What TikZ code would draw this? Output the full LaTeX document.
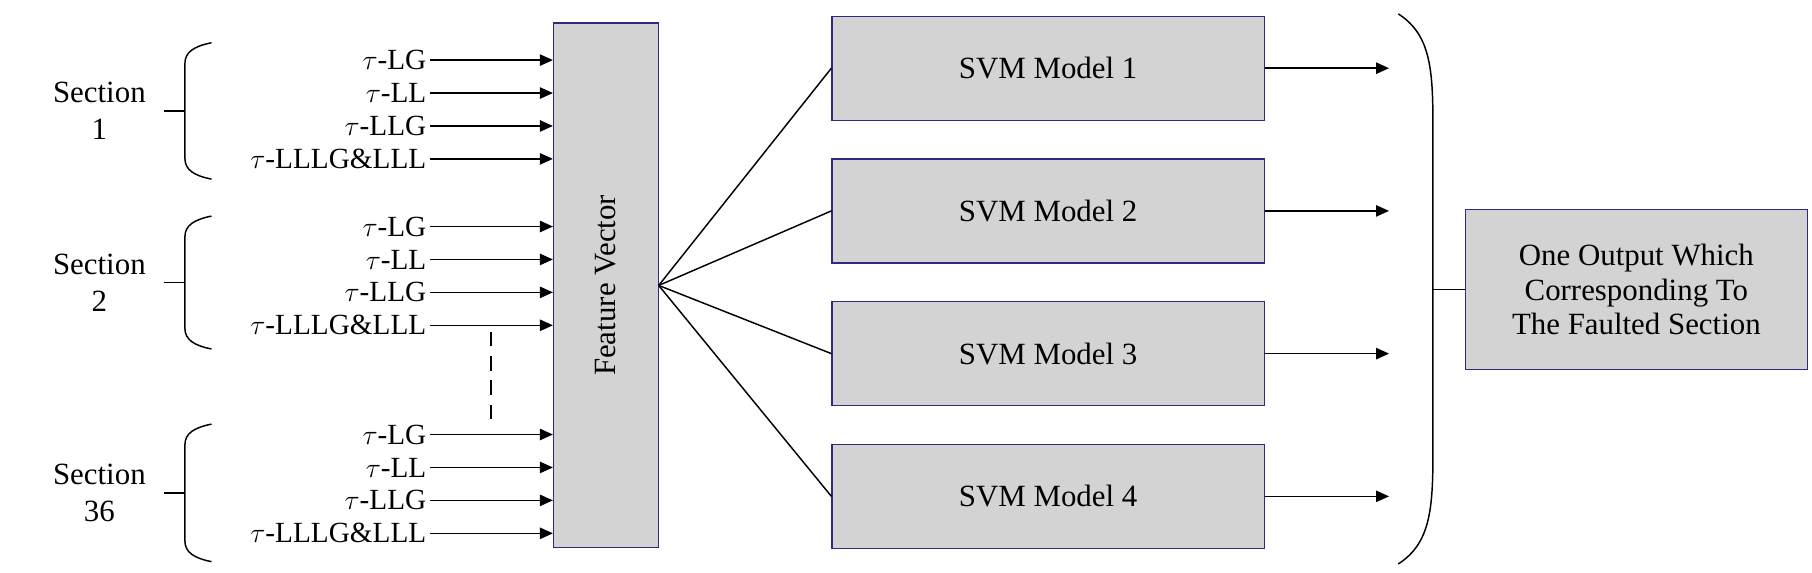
\documentclass[tikz,border=0pt]{standalone}
\usepackage{fontspec}
\setmainfont{Liberation Serif}
\usetikzlibrary{arrows.meta, positioning}
\definecolor{boxfill}{HTML}{D3D3D3}
\definecolor{boxline}{HTML}{2E2A7F}
\tikzset{
  >={Triangle[length=8pt,width=7pt]}, % filled arrow heads
  block/.style={draw=boxline, fill=boxfill, line width=0.8pt, inner sep=0pt, font=\fontsize{19}{23}\selectfont},
  feat/.style={font=\fontsize{18}{21}\selectfont, inner sep=2pt},
  sect/.style={font=\fontsize{19}{23}\selectfont, align=center},
  wire/.style={line width=0.9pt},
}
\begin{document}
\begin{tikzpicture}[x=0.025cm, y=-0.025cm]
  \useasboundingbox (0,0) rectangle (1568,495);

  % middle column
  \node[block, minimum width=91*0.025cm, minimum height=454*0.025cm] (fv) at (524.5,247) {};
  \node[rotate=90, font=\fontsize{19}{23}\selectfont] at (fv) {Feature Vector};
  \coordinate (hub) at (570,247);

  \foreach \i/\y in {1/59, 2/182.5, 3/306, 4/429.5} {
    \node[block, minimum width=374*0.025cm, minimum height=90*0.025cm] (svm\i) at (907,\y) {SVM Model \i};
    \coordinate (out\i) at (1202,\y);
    \draw[wire] (hub) -- (svm\i.west);
    \draw[wire,->] (svm\i.east) -- (out\i);
  }

  % right parenthesis
  \draw[wire] (1210,12) .. controls (1238,30) and (1240,60) .. (1240,110)
    -- (1240,390) .. controls (1240,440) and (1238,470) .. (1210,488);
  \node[block, align=center, minimum width=296*0.025cm, minimum height=139*0.025cm] (res) at (1416,250.5)
    {One Output Which\\[-2pt]Corresponding To\\[-2pt]The Faulted Section};
  \draw[wire] (1240,250.5) -- (res.west);

  % inputs
  \foreach \s/\t/\b/\yy in {1/37/155/52, 2/187/302/196, 36/367/486/376} {
    \pgfmathsetmacro\m{(\t+\b)/2}
    \draw[wire] (183,\t) .. controls (168,\t+3) and (160,\t+8) .. (160,\t+18)
      -- (160,\b-18) .. controls (160,\b-8) and (168,\b-3) .. (183,\b);
    \draw[wire] (142,\m) -- (160,\m);
    \node[sect] at (86,\m) {Section\\\s};
    \foreach \lab [count=\k from 0] in {LG, LL, LLG, LLLG\&LLL} {
      \pgfmathsetmacro\yk{\yy+28.5*\k}
      \coordinate (in\s\k) at (372,\yk);
      \node[feat, anchor=east] at (in\s\k) {$\tau$-\lab};
      \draw[wire,->] (in\s\k) -- (fv.west |- in\s\k);
    }
  }
  \draw[wire, dash pattern=on 9pt off 6pt] (425,287) -- (425,368);
\end{tikzpicture}
\end{document}
